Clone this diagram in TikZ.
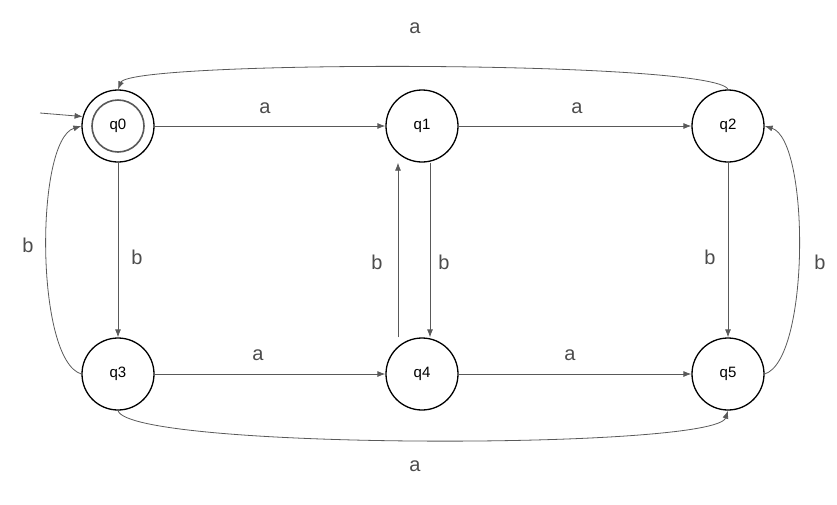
\documentclass[tikz,border=0pt]{standalone}
\usepackage{fontspec}
\setmainfont{Liberation Sans}
\usetikzlibrary{arrows.meta}
\begin{document}
\begin{tikzpicture}[x=1pt,y=-1pt,
  st/.style={circle,draw=black,line width=1.3pt,minimum size=72pt,inner sep=0pt,font=\fontsize{15}{15}\selectfont},
  ed/.style={draw=black!65,line width=0.8pt,-{Latex[length=8pt,width=6pt]}},
  lb/.style={text=black!70,font=\fontsize{20}{20}\selectfont}]
\useasboundingbox (0,0) rectangle (837,504);
\node[st] (q0) at (118,126) {q0};
\node[circle,draw=black!65,line width=1.6pt,minimum size=52pt] (q0i) at (118,126) {};
\node[st] (q1) at (422,126) {q1};
\node[st] (q2) at (728,126) {q2};
\node[st] (q3) at (118,374) {q3};
\node[st] (q4) at (422,374) {q4};
\node[st] (q5) at (728,374) {q5};
\coordinate (s) at (40,113);
\draw[ed] (s) -- (q0.165);
\draw[ed] (q0) -- (q1); \draw[ed] (q1) -- (q2);
\draw[ed] (q3) -- (q4); \draw[ed] (q4) -- (q5);
\draw[ed] (q0) -- (q3); \draw[ed] (q2) -- (q5);
\draw[ed] ([xshift=8pt]q1.south) -- ([xshift=8pt]q4.north);
\draw[ed] ([xshift=-24pt]q4.north) -- ([xshift=-24pt]q1.south);
\draw[ed] (q2.north) .. controls (715,60) and (130,60) .. (q0.north);
\draw[ed] (q3.south) .. controls (130,450) and (715,450) .. (q5.south);
\draw[ed] (q3.west) .. controls (35,360) and (35,140) .. (q0.west);
\draw[ed] (q5.east) .. controls (810,360) and (810,140) .. (q2.east);
\node[lb] (l1) at (415,28) {a};
\node[lb] (l2) at (265,108) {a};
\node[lb] (l3) at (577,108) {a};
\node[lb] (l4) at (258,355) {a};
\node[lb] (l5) at (570,355) {a};
\node[lb] (l6) at (415,466) {a};
\node[lb] (l7) at (137,257) {b};
\node[lb] (l8) at (28,245) {b};
\node[lb] (l9) at (377,262) {b};
\node[lb] (l10) at (444,262) {b};
\node[lb] (l11) at (710,257) {b};
\node[lb] (l12) at (820,262) {b};
\end{tikzpicture}
\end{document}
